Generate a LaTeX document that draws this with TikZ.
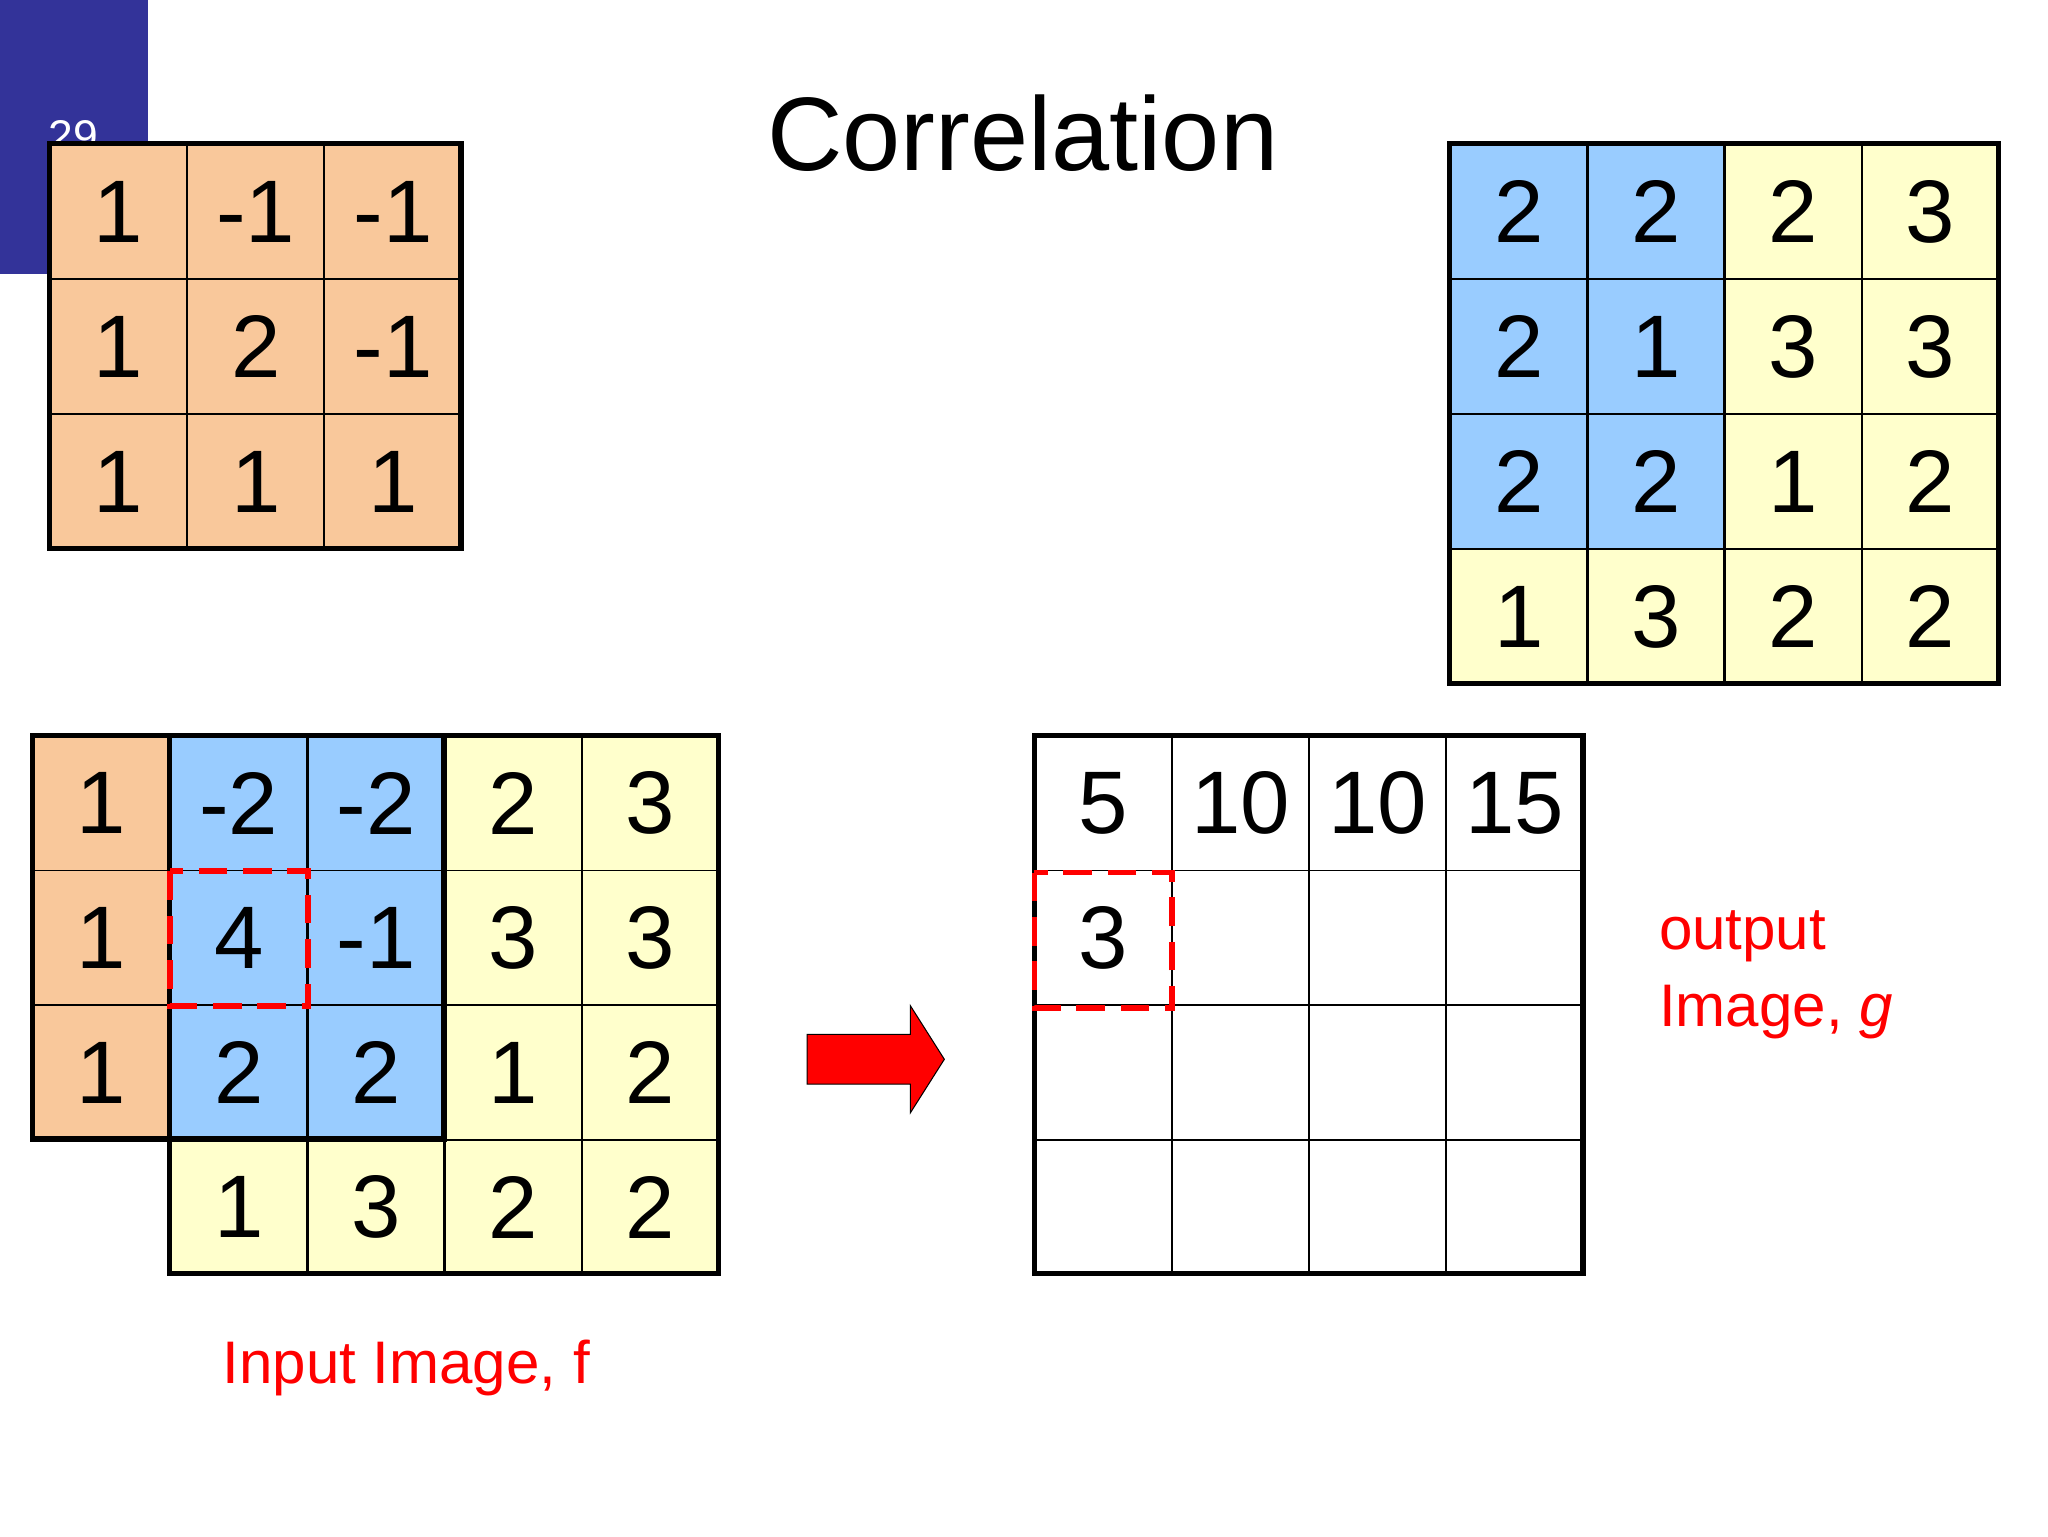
\documentclass[tikz,border=0pt]{standalone}
\usepackage{fontspec}
\setmainfont{Liberation Sans}
\definecolor{korange}{HTML}{F9C89B}
\definecolor{kblue}{HTML}{99CCFF}
\definecolor{kyellow}{HTML}{FFFFCC}
\definecolor{slide}{HTML}{333399}
\begin{document}
\begin{tikzpicture}[x=1pt,y=-1pt,
  cellc/.style={draw=black,line width=1.2pt,minimum width=104.5pt,minimum height=103pt,inner sep=0pt,anchor=north west,font=\fontsize{68}{70}\selectfont},
  thick box/.style={draw=black,line width=4pt},
  reddash/.style={draw=red,line width=4.5pt,dash pattern=on 22pt off 12pt},
  redlbl/.style={text=red,font=\fontsize{46}{54}\selectfont,inner sep=0pt}]
\useasboundingbox (0,0) rectangle (1568,1176);
\fill[white] (0,0) rectangle (1568,1176);
% slide number
\fill[slide] (0,0) rectangle (113,210);
\node[text=white,font=\fontsize{34}{36}\selectfont] (num) at (56,104) {29};
% title
\node[font=\fontsize{80}{90}\selectfont] (title) at (783,102) {Correlation};
% kernel
\foreach \r/\row in {0/{1,-1,-1},1/{1,2,-1},2/{1,1,1}}{
  \foreach \v [count=\c from 0] in \row {
    \node[cellc,fill=korange] (k\r\c) at (38+\c*105,110+\r*103.3) {\v};
  }}
\draw[thick box] (38,110) rectangle (353,420);
% top right image
\foreach \r/\row in {0/{2,2,2,3},1/{2,1,3,3},2/{2,2,1,2},3/{1,3,2,2}}{
  \foreach \v [count=\c from 0] in \row {
    \pgfmathsetmacro\isb{(\c<2 && \r<3)?1:0}
    \ifdim\isb pt>0.5pt
      \node[cellc,fill=kblue] (t\r\c) at (1110+\c*105,110+\r*103.3) {\v};
    \else
      \node[cellc,fill=kyellow] (t\r\c) at (1110+\c*105,110+\r*103.3) {\v};
    \fi
  }}
\draw[thick box] (1110,110) rectangle (1530,523);
% bottom left
\foreach \r/\row in {0/{1,-2,-2,2,3},1/{1,4,-1,3,3},2/{1,2,2,1,2}}{
  \foreach \v [count=\c from 0] in \row {
    \ifnum\c=0 \def\fc{korange}\else\ifnum\c<3 \def\fc{kblue}\else\def\fc{kyellow}\fi\fi
    \node[cellc,fill=\fc] (b\r\c) at (25+\c*105,563+\r*103) {\v};
  }}
\foreach \v [count=\c from 1] in {1,3,2,2}{
  \node[cellc,fill=kyellow] (b3\c) at (25+\c*105,872) {\v};
}
\draw[thick box] (130,563) rectangle (550,975);
\draw[thick box] (25,563) rectangle (340,872);
\draw[reddash] (130,667) rectangle (236,770);
\node[redlbl] (inlbl) at (311,1047) {Input Image, f};
% arrow
\fill[red,draw=black,line width=0.8pt] (618,792) -- (697,792) -- (697,770) -- (723,811) -- (697,852) -- (697,830) -- (618,830) -- cycle;
% output
\foreach \r in {0,...,3}{\foreach \c in {0,...,3}{
  \node[cellc] (o\r\c) at (792+\c*105,563+\r*103) {};
}}
\node[font=\fontsize{68}{70}\selectfont] at (o00) {5};
\node[font=\fontsize{68}{70}\selectfont] at (o01) {10};
\node[font=\fontsize{68}{70}\selectfont] at (o02) {10};
\node[font=\fontsize{68}{70}\selectfont] at (o03) {15};
\node[font=\fontsize{68}{70}\selectfont] at (o10) {3};
\draw[thick box] (792,563) rectangle (1212,975);
\draw[reddash] (792,668) rectangle (897,772);
\node[redlbl,anchor=west] (outl1) at (1270,717) {output};
\node[redlbl,anchor=west] (outl2) at (1270,775) {Image, \textit{g}};
\end{tikzpicture}
\end{document}
